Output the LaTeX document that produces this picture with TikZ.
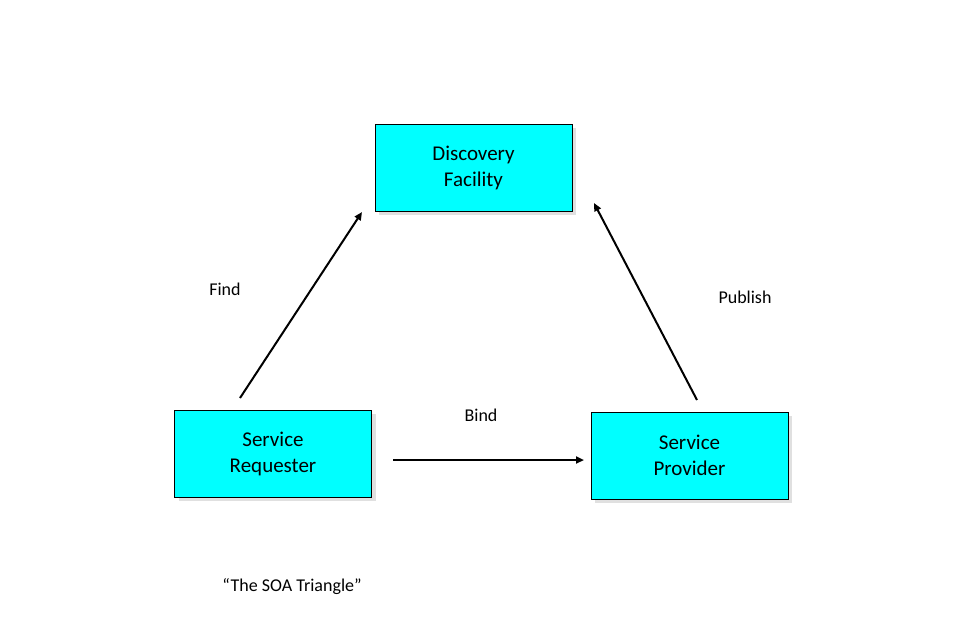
\documentclass[tikz,border=0pt]{standalone}
\usepackage{fontspec}
\setmainfont{Carlito}
\usetikzlibrary{arrows.meta}
\definecolor{boxcyan}{RGB}{0,255,255}
\begin{document}
\begin{tikzpicture}[x=1pt,y=-1pt,
  box/.style={draw=black,fill=boxcyan,minimum width=197pt,minimum height=87pt,align=center,font=\fontsize{21}{26}\selectfont,inner sep=0pt,
    postaction={}},
  shadowbox/.style={fill=black!12,minimum width=197pt,minimum height=87pt,inner sep=0pt},
  lab/.style={font=\fontsize{18}{22}\selectfont},
  arr/.style={-{Triangle[length=8pt,width=7pt]},line width=2pt}]
\fill[white] (0,0) rectangle (960,630);
\node[shadowbox] at (477.5,171.5) {};
\node[shadowbox] at (277.5,457.5) {};
\node[shadowbox] at (693.5,459.5) {};
\node[box] (disc) at (473.5,167.5) {Discovery\\Facility};
\node[box] (req) at (273,453.5) {Service\\Requester};
\node[box] (prov) at (689.5,455.5) {Service\\Provider};
\coordinate (f1) at (240,398); \coordinate (f2) at (362,212);
\coordinate (p1) at (697,400); \coordinate (p2) at (594,203);
\coordinate (b1) at (393,460); \coordinate (b2) at (584,460);
\draw[arr] (f1) -- (f2);
\draw[arr] (p1) -- (p2);
\draw[arr] (b1) -- (b2);
\node[lab] (find) at (225,289) {Find};
\node[lab] (pub) at (745,297) {Publish};
\node[lab] (bind) at (481,415) {Bind};
\node[lab] (cap) at (292,587) {“The SOA Triangle”};
\end{tikzpicture}
\end{document}
